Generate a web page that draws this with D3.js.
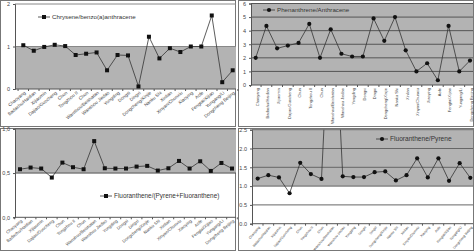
<!DOCTYPE html>
<html>
<head>
<meta charset="utf-8">
<script src="https://cdn.jsdelivr.net/npm/d3@7"></script>
<style>
  body { margin: 0; background: #fff; }
  svg { display: block; font-family: "Liberation Sans", Arial, sans-serif; }
</style>
</head>
<body>
<div id="vis"></div>
<script>
const W = 474, H = 251;

// Sampling sites (same order in all four panels)
const sites = [
  "Chaoyang", "Badachu/Haidian", "Xijiaomin", "Dajiao/Guocheng", "Chun",
  "Tongzhou II", "Chun", "Wanshou/Beishatan", "Wanshou Jiedao", "Yongding",
  "Dongsi", "Dingxi", "Dongcheng/Xinjie", "Nanku Shi", "Xinlian",
  "Xinyan/Chunxiu", "Xiaoying", "Aofe", "Fengtai/Xijiao", "Yungang/Li",
  "Dongcheng Beijing"
];

// Ratios
const chrysBaa = [1.03, 0.90, 0.99, 1.04, 1.01, 0.80, 0.83, 0.86, 0.44, 0.80, 0.79,
  0.06, 1.23, 0.72, 0.96, 0.87, 1.00, 1.00, 1.73, 0.16, 0.44];
const phenAnt = [2.0, 4.35, 2.7, 2.9, 3.1, 4.5, 2.0, 4.1, 2.3, 2.1, 2.1,
  4.9, 3.25, 5.0, 2.55, 1.0, 1.6, 0.35, 4.35, 1.0, 1.8];
const fluoPyrFluo = [0.543, 0.562, 0.551, 0.449, 0.618, 0.566, 0.543, 0.861, 0.554, 0.551, 0.551,
  0.573, 0.581, 0.528, 0.554, 0.637, 0.551, 0.633, 0.524, 0.614, 0.551];
const fluoPyr = [1.20, 1.29, 1.23, 0.81, 1.62, 1.32, 1.19, 7.0, 1.26, 1.24, 1.24,
  1.37, 1.39, 1.15, 1.29, 1.74, 1.23, 1.74, 1.14, 1.61, 1.22];

// Ticks
const ticksTL = [0, 1, 2];
const ticksTR = [0, 1, 2, 3, 4, 5, 6];
const ticksBL = [0, 0.5, 1];
const ticksBR = [0, 0.5, 1, 1.5, 2, 2.5];

const svg = d3.select("#vis").append("svg").attr("width", W).attr("height", H);

const defs = svg.append("defs");

// Panel frames
const frames = [
  { x: 0.5, y: 0.5, w: 235, h: 126 },
  { x: 238.5, y: 0.5, w: 235, h: 126 },
  { x: 0.5, y: 128.5, w: 235, h: 122 },
  { x: 238.5, y: 128.5, w: 235, h: 122 }
];
svg.selectAll("rect.frame")
  .data(frames)
  .join("rect")
  .attr("class", "frame")
  .attr("x", d => d.x).attr("y", d => d.y)
  .attr("width", d => d.w).attr("height", d => d.h)
  .attr("fill", "none")
  .attr("stroke", "#777")
  .attr("stroke-width", 1);

const gray = "#b3b3b3";

function drawPanel(p) {
  const g = svg.append("g");
  const x = d3.scalePoint().domain(d3.range(sites.length)).range(p.xr);
  const y = d3.scaleLinear().domain(p.domain).range(p.yr);
  const step = x.step();
  const left = p.axisX, right = p.right;

  const clipId = "clip" + p.id;
  defs.append("clipPath").attr("id", clipId)
    .append("rect")
    .attr("x", left).attr("y", y(p.domain[1]))
    .attr("width", right - left).attr("height", y(p.domain[0]) - y(p.domain[1]));

  // shaded band
  g.append("rect")
    .attr("x", left)
    .attr("y", y(p.band[1]))
    .attr("width", right - left)
    .attr("height", y(p.band[0]) - y(p.band[1]))
    .attr("fill", gray);

  // grid lines
  g.selectAll("line.grid")
    .data(p.grid)
    .join("line")
    .attr("x1", left).attr("x2", right)
    .attr("y1", d => y(d)).attr("y2", d => y(d))
    .attr("stroke", p.gridColor)
    .attr("stroke-width", 1);

  // y axis
  const ya = d3.axisLeft(y).tickValues(p.ticks).tickSize(2).tickFormat(p.fmt);
  const yg = g.append("g").attr("transform", `translate(${left},0)`).call(ya);
  yg.select(".domain").attr("stroke", "#555");
  yg.selectAll(".tick line").attr("stroke", "#555");
  yg.selectAll("text").attr("font-size", 5.5).attr("fill", "#444");

  // x axis line + category ticks
  const y0 = y(p.domain[0]);
  g.append("line")
    .attr("x1", left).attr("x2", right)
    .attr("y1", y0).attr("y2", y0)
    .attr("stroke", "#555");
  g.selectAll("line.xt")
    .data(d3.range(sites.length + 1))
    .join("line")
    .attr("x1", d => x(0) - step / 2 + d * step)
    .attr("x2", d => x(0) - step / 2 + d * step)
    .attr("y1", y0).attr("y2", y0 + 2)
    .attr("stroke", "#555");

  // category labels
  g.selectAll("text.cat")
    .data(sites)
    .join("text")
    .attr("transform", (d, i) => `translate(${x(i) + 1.5},${y0 + 3}) rotate(${p.rot})`)
    .attr("text-anchor", "end")
    .attr("dy", "0.35em")
    .attr("font-size", p.catSize)
    .attr("fill", "#444")
    .text(d => d);

  // series line
  const line = d3.line().x((d, i) => x(i)).y(d => y(d));
  g.append("path")
    .datum(p.values)
    .attr("clip-path", `url(#${clipId})`)
    .attr("d", line)
    .attr("fill", "none")
    .attr("stroke", "#333")
    .attr("stroke-width", 0.8);

  // markers
  const vis = p.values.map((v, i) => ({ v, i })).filter(d => d.v <= p.domain[1]);
  if (p.marker === "square") {
    g.selectAll("rect.mk").data(vis).join("rect")
      .attr("x", d => x(d.i) - 2).attr("y", d => y(d.v) - 2)
      .attr("width", 4).attr("height", 4)
      .attr("fill", "#111");
  } else {
    g.selectAll("circle.mk").data(vis).join("circle")
      .attr("cx", d => x(d.i)).attr("cy", d => y(d.v))
      .attr("r", 2.1)
      .attr("fill", "#111");
  }

  // legend
  const lg = g.append("g").attr("transform", `translate(${p.legend[0]},${p.legend[1]})`);
  lg.append("line").attr("x1", 0).attr("x2", 12).attr("stroke", "#333").attr("stroke-width", 0.8);
  if (p.marker === "square") {
    lg.append("rect").attr("x", 4).attr("y", -2).attr("width", 4).attr("height", 4).attr("fill", "#111");
  } else {
    lg.append("circle").attr("cx", 6).attr("r", 2.1).attr("fill", "#111");
  }
  lg.append("text")
    .attr("x", 14).attr("dy", "0.35em")
    .attr("font-size", p.legendSize)
    .attr("fill", "#333")
    .text(p.name);
}

drawPanel({
  id: "TL", values: chrysBaa, name: "Chrysene/benzo(a)anthracene",
  domain: [0, 2], yr: [89, 4], xr: [23.3, 232.7], axisX: 15, right: 236,
  band: [0, 1], grid: [1, 2], gridColor: "#888", ticks: ticksTL,
  fmt: d3.format("d"), rot: -40, marker: "square", catSize: 4.6,
  legend: [38, 17], legendSize: 6.2
});

drawPanel({
  id: "TR", values: phenAnt, name: "Phenanthrene/Anthracene",
  domain: [0, 6], yr: [85, 3.5], xr: [255.7, 470], axisX: 251, right: 473,
  band: [0, 6], grid: [1, 2, 3, 4, 5, 6], gridColor: "#555", ticks: ticksTR,
  fmt: d3.format("d"), rot: -90, marker: "circle", catSize: 4.0,
  legend: [263, 10], legendSize: 6.2
});

drawPanel({
  id: "BL", values: fluoPyrFluo, name: "Fluoranthene/(Pyrene+Fluoranthene)",
  domain: [0, 1], yr: [217.3, 128.8], xr: [20, 232], axisX: 15, right: 236,
  band: [0.5, 1], grid: [0.5, 1], gridColor: "#555", ticks: ticksBL,
  fmt: d => d3.format(".1f")(d).replace(".", ","), rot: -40, marker: "square", catSize: 4.3,
  legend: [100, 196], legendSize: 6.4
});

drawPanel({
  id: "BR", values: fluoPyr, name: "Fluoranthene/Pyrene",
  domain: [0, 2.5], yr: [223.7, 129.7], xr: [257.7, 470.3], axisX: 252, right: 473,
  band: [1, 2.5], grid: [0.5, 1, 1.5, 2, 2.5], gridColor: "#666", ticks: ticksBR,
  fmt: d3.format(".1f"), rot: -50, marker: "circle", catSize: 3.4,
  legend: [376, 139], legendSize: 6.6
});
</script>
</body>
</html>
